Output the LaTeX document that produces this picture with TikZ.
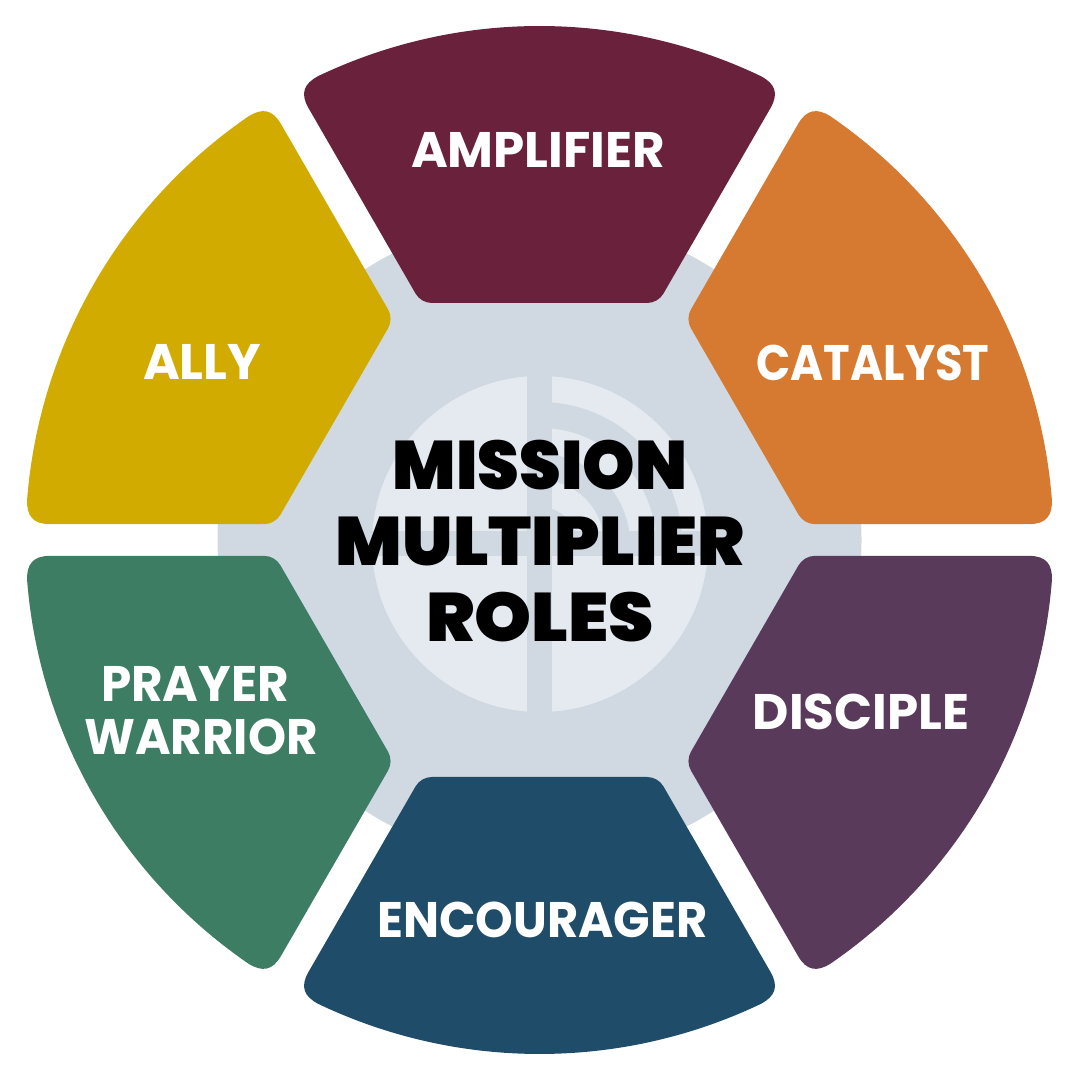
\documentclass[tikz,border=0pt]{standalone}
\usepackage{graphicx}
\usepackage{fontspec}
\newfontfamily\rollenfont{Poppins Bold}
\newfontfamily\titelfont{Poppins Black}
\definecolor{weinrot}{HTML}{6A213B}
\definecolor{orange}{HTML}{D57A30}
\definecolor{gelb}{HTML}{D2AB00}
\definecolor{lila}{HTML}{593A5B}
\definecolor{blau}{HTML}{1F4D69}
\definecolor{gruen}{HTML}{3C7D64}
\definecolor{grau}{HTML}{D0D9E1}
\definecolor{hellgrau}{HTML}{E4EAEF}
\tikzset{
rolle/.style={text=white,align=center,inner sep=0pt,anchor=base,font=\rollenfont\fontsize{14.2}{15}\selectfont},
titel/.style={text=black,align=center,inner sep=0pt,font=\titelfont\fontsize{19.5}{21.6}\selectfont}
}
\begin{document}
\begin{tikzpicture}[x=0.01cm,y=0.01cm]
\def\segment#1#2{
\fill[#2,rotate=#1] (-221.3,463.9) arc[start angle=115.5,end angle=64.5,radius=514]
 .. controls (235.5,456.4) and (239.5,446.7) .. (231.1,432.1) -- (124,246.5)
 .. controls (120.6,240.6) and (114.3,237) .. (107.5,237) -- (-107.5,237)
 .. controls (-114.3,237) and (-120.6,240.6) .. (-124,246.5) -- (-231.1,432.1)
 .. controls (-239.5,446.7) and (-235.5,456.4) .. (-221.3,463.9) -- cycle;
}
\useasboundingbox (-539.5,-540) rectangle (540.5,540);
\fill[grau] (0,0) circle[radius=322];
% logo
\coordinate (logo) at (0.5,-4);
\fill[hellgrau] (logo) circle[radius=168];
\begin{scope}
\clip (12.5,9) rectangle (200,200);
\fill[grau] (logo) circle[radius=142];
\fill[hellgrau] (logo) circle[radius=116];
\fill[grau] (logo) circle[radius=90];
\fill[hellgrau] (logo) circle[radius=64];
\fill[grau] (logo) circle[radius=37];
\end{scope}
\fill[grau] (-12.5,-175) rectangle (12.5,175);
\fill[grau] (-170,-16) rectangle (170,9);
% segmente
\segment{0}{weinrot}
\segment{-60}{orange}
\segment{-120}{lila}
\segment{180}{blau}
\segment{120}{gruen}
\segment{60}{gelb}
\node[rolle] (amplifier) at (-1.5,372) {AMPLIFIER};
\node[rolle] (catalyst) at (333.5,159) {\scalebox{.9}[1]{CATALYST}};
\node[rolle] (disciple) at (321.5,-190) {DISCIPLE};
\node[rolle] (encourager) at (3,-397) {\scalebox{.96}[1]{ENCOURAGER}};
\node[rolle,anchor=center] (warrior) at (-338.5,-171) {\scalebox{.97}[1]{PRAYER}\kern3.4pt\\\scalebox{.97}[1]{WARRIOR}};
\node[rolle] (ally) at (-337.5,160) {ALLY};
\node[titel] (mitte) at (0.5,-1) {\scalebox{.973}[1]{MISSION}\\\scalebox{1.023}[1]{MULTIPLIER}\\\scalebox{1.057}[1]{ROLES}};
\end{tikzpicture}
\end{document}
